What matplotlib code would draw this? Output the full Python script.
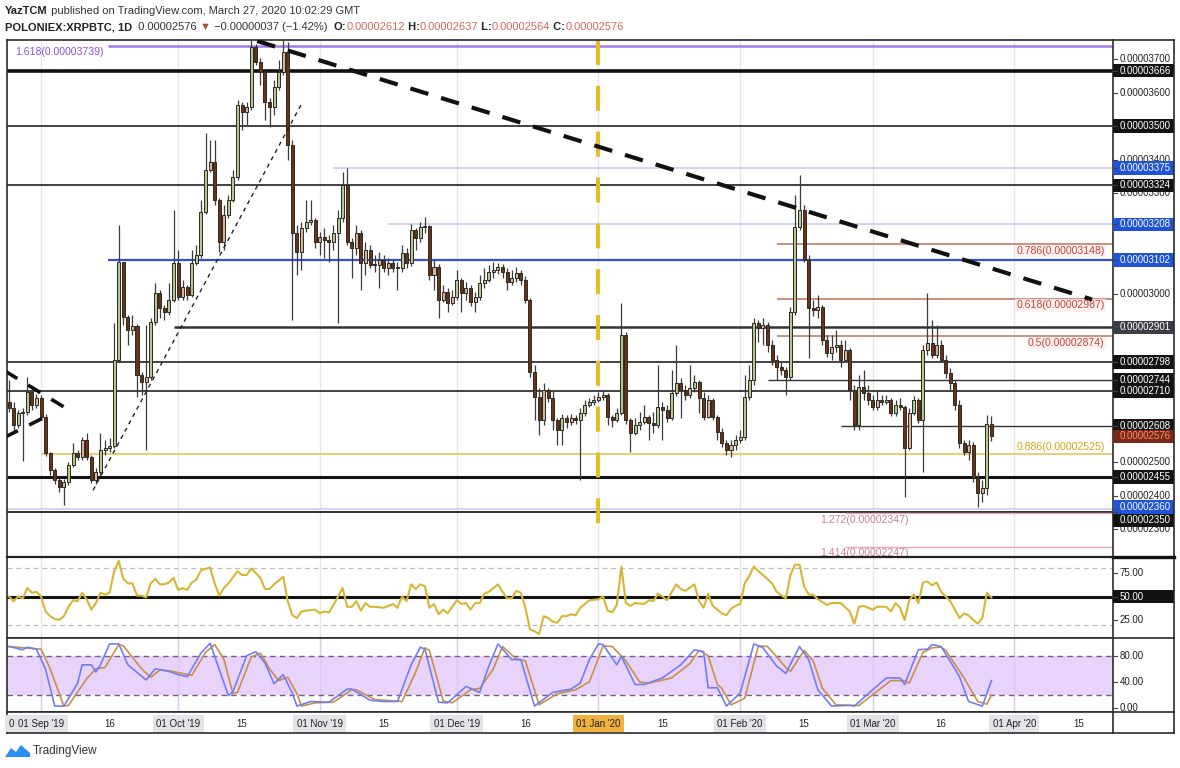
import numpy as np
import matplotlib
matplotlib.use("Agg")
import matplotlib.pyplot as plt
from matplotlib.patches import Rectangle, Polygon
from matplotlib.lines import Line2D
from matplotlib.transforms import IdentityTransform

plt.rcParams['font.family'] = ['Liberation Sans', 'DejaVu Sans']

# ---------------- data ----------------
# daily XRP/BTC candles, first one 25 Aug 2019 (day -7 counted from 01 Sep 2019)
# prices in satoshi (1e-8 BTC)
first_open = 2678
closes = [2661, 2610, 2646, 2649, 2708, 2670, 2690, 2634,
          2527, 2476, 2446, 2425, 2440, 2491, 2527, 2515, 2565, 2515,
          2446, 2470, 2535, 2541, 2547, 2804, 3096, 2932, 2893, 2905,
          2759, 2738, 2753, 2917, 3003, 2958, 2947, 2982, 3093, 2991,
          3021, 2997, 3093, 3116, 3244, 3370, 3393, 3280, 3155, 3236,
          3280, 3349, 3563, 3542, 3557, 3736, 3691, 3662, 3572, 3557,
          3617, 3662, 3721, 3444, 3182, 3125, 3197, 3215, 3221, 3155,
          3170, 3161, 3155, 3182, 3227, 3325, 3155, 3137, 3182, 3093,
          3131, 3087, 3087, 3101, 3078, 3093, 3078, 3078, 3122, 3093,
          3191, 3167, 3200, 3203, 3057, 3081, 2982, 3006, 2973, 2991,
          3042, 3003, 3018, 2976, 2991, 3033, 3042, 3066, 3072, 3081,
          3066, 3036, 3048, 3063, 3042, 2982, 2768, 2693, 2625, 2714,
          2690, 2625, 2595, 2631, 2619, 2631, 2625, 2646, 2670, 2678,
          2684, 2693, 2699, 2634, 2625, 2646, 2878, 2625, 2586, 2610,
          2619, 2634, 2616, 2610, 2664, 2655, 2631, 2705, 2735, 2714,
          2699, 2720, 2738, 2690, 2634, 2684, 2634, 2589, 2556, 2535,
          2550, 2565, 2574, 2693, 2744, 2914, 2899, 2908, 2848, 2804,
          2783, 2774, 2753, 2947, 3200, 3250, 3101, 2958, 2953, 2961,
          2863, 2824, 2842, 2848, 2804, 2833, 2714, 2610, 2723, 2705,
          2684, 2664, 2684, 2678, 2684, 2646, 2670, 2664, 2541, 2646,
          2684, 2625, 2833, 2854, 2818, 2848, 2804, 2765, 2735, 2670,
          2556, 2529, 2550, 2452, 2407, 2422, 2612, 2576]
highs = [2744, 2678, 2655, 2661, 2753, 2720, 2702, 2699,
         2643, 2529, 2482, 2452, 2449, 2500, 2556, 2535, 2574, 2586,
         2521, 2482, 2586, 2565, 2571, 2914, 3206, 3096, 2938, 2938,
         2911, 2768, 2908, 2929, 3033, 3012, 2967, 3033, 3250, 3131,
         3042, 3027, 3131, 3146, 3280, 3480, 3459, 3459, 3286, 3265,
         3295, 3370, 3578, 3572, 3572, 3757, 3745, 3703, 3667, 3584,
         3638, 3697, 3757, 3751, 3459, 3206, 3215, 3280, 3280, 3227,
         3185, 3197, 3176, 3206, 3250, 3364, 3376, 3167, 3206, 3191,
         3155, 3146, 3116, 3125, 3116, 3107, 3101, 3096, 3146, 3137,
         3209, 3197, 3215, 3230, 3206, 3101, 3090, 3027, 3018, 3012,
         3072, 3048, 3036, 3027, 3006, 3057, 3078, 3087, 3096, 3093,
         3090, 3078, 3072, 3081, 3072, 3054, 2988, 2789, 2720, 2735,
         2720, 2714, 2631, 2643, 2640, 2643, 2640, 2661, 2684, 2690,
         2699, 2708, 2714, 2705, 2640, 2661, 2973, 2887, 2631, 2631,
         2649, 2670, 2640, 2649, 2789, 2678, 2670, 2774, 2848, 2750,
         2729, 2789, 2759, 2744, 2708, 2699, 2690, 2640, 2601, 2565,
         2565, 2580, 2595, 2759, 2789, 2929, 2923, 2929, 2917, 2863,
         2818, 2798, 2783, 2961, 3295, 3355, 3265, 3116, 2982, 2997,
         2967, 2878, 2878, 2893, 2863, 2863, 2839, 2729, 2759, 2774,
         2729, 2699, 2714, 2699, 2699, 2690, 2684, 2690, 2670, 2661,
         2696, 2690, 2848, 3003, 2923, 2908, 2863, 2818, 2780, 2744,
         2684, 2565, 2565, 2559, 2470, 2446, 2640, 2637]
lows = [2649, 2586, 2601, 2503, 2640, 2655, 2661, 2625,
        2518, 2461, 2434, 2410, 2372, 2431, 2485, 2506, 2506, 2506,
        2437, 2434, 2461, 2521, 2529, 2541, 2798, 2908, 2848, 2878,
        2693, 2699, 2535, 2744, 2908, 2929, 2923, 2938, 2976, 2982,
        2982, 2982, 2991, 3087, 3107, 3238, 3364, 3265, 3125, 3131,
        3227, 3274, 3340, 3489, 3504, 3548, 3682, 3623, 3519, 3498,
        3533, 3608, 3653, 3399, 2923, 3057, 3072, 3185, 3206, 3137,
        3116, 3107, 3096, 3131, 2914, 3215, 3146, 3048, 3116, 3012,
        3057, 3078, 3066, 3018, 3066, 3057, 3066, 3012, 3066, 3078,
        3084, 3131, 3155, 3182, 3042, 3012, 2929, 2976, 2947, 2967,
        2982, 2947, 2982, 2964, 2947, 2982, 3018, 3036, 3048, 3060,
        3048, 3012, 3027, 3036, 3027, 2973, 2753, 2625, 2580, 2610,
        2678, 2595, 2550, 2550, 2601, 2610, 2613, 2446, 2637, 2664,
        2670, 2678, 2684, 2610, 2604, 2619, 2640, 2613, 2529, 2580,
        2595, 2613, 2565, 2586, 2601, 2565, 2619, 2625, 2696, 2631,
        2684, 2690, 2708, 2646, 2625, 2631, 2625, 2565, 2544, 2521,
        2515, 2535, 2556, 2565, 2684, 2729, 2857, 2848, 2827, 2789,
        2744, 2759, 2699, 2744, 2938, 3191, 3096, 2810, 2935, 2929,
        2848, 2812, 2804, 2827, 2783, 2804, 2684, 2595, 2595, 2684,
        2670, 2655, 2655, 2670, 2672, 2637, 2637, 2655, 2395, 2535,
        2640, 2616, 2470, 2818, 2810, 2810, 2798, 2750, 2714, 2655,
        2541, 2521, 2506, 2440, 2366, 2381, 2401, 2564]
# candle colouring as shown: g = green, b = brown, t = tan
kinds = ("bbgtgbtb" "bbbbtggbtb" "btgggggbbt" "bbtggbbggb" "tbggggtbbt"
         "gggbtgbbbb" "ggtbbbtggb" "tbbgggbbtb" "tbbtbtbbgb" "gbgtbtbtbt"
         "gbtbtgggtg" "bbtgbbbbbt" "bbbgbtbggg" "gtgbbggbbg" "ggbbgbbggb"
         "btgbbtbbbb" "tgggggbtbb" "bbbgggbbbt" "bbtgbtbbgb" "bbtbtbgbbt"
         "gbgtbtbbbb" "bbtbbtgb")

# RSI (day since 01 Sep 2019, value)
rsi_day = [-7, -6, -5, -4, -3, -2, -1, 0, 1, 2, 3, 4, 5, 6, 7, 8, 9, 10, 11, 12,
           13, 14, 15, 16, 17, 18, 19, 20, 21, 22, 23, 24, 25, 26, 27, 28, 29, 30,
           31, 32, 33, 34, 35, 37, 38, 39, 40, 41, 43, 44, 45, 46, 47, 48, 49, 50,
           51, 53, 54, 55, 56, 57, 58, 60, 61, 62, 63, 64, 66, 67, 68, 69, 70, 71,
           72, 73, 75, 76, 77, 78, 79, 80, 81, 82, 83, 84, 85, 86, 87, 88, 89, 91,
           92, 93, 94, 95, 96, 97, 98, 100, 101, 102, 103, 104, 105, 106, 107, 108,
           109, 110, 111, 112, 113, 114, 115, 116, 117, 118, 119, 120, 122, 123,
           124, 125, 126, 127, 128, 129, 130, 132, 133, 134, 135, 136, 137, 139,
           140, 141, 143, 144, 145, 146, 147, 148, 149, 150, 151, 152, 153, 154,
           155, 156, 157, 158, 160, 161, 163, 164, 165, 166, 167, 168, 169, 170,
           172, 173, 175, 177, 178, 179, 180, 182, 183, 184, 185, 186, 187, 188,
           189, 190, 191, 192, 193, 194, 195, 196, 197, 199, 201, 202, 203, 204,
           205, 206, 207, 208]
rsi_val = [50, 45, 50, 48, 59, 54, 55, 50, 34, 29, 26, 25, 29, 39, 46, 45, 54, 47, 36, 43,
           54, 52, 54, 77, 88, 69, 64, 64, 51, 51, 49, 64, 69, 63, 63, 65, 70, 57,
           59, 57, 65, 68, 78, 81, 64, 51, 59, 64, 77, 73, 73, 80, 75, 70, 58, 58,
           63, 71, 45, 30, 27, 34, 35, 36, 32, 34, 33, 41, 59, 39, 39, 45, 35, 43,
           39, 39, 38, 40, 42, 38, 50, 45, 63, 58, 63, 61, 38, 42, 31, 36, 32, 46,
           42, 43, 36, 43, 43, 53, 55, 63, 55, 48, 48, 56, 54, 38, 15, 13,
           10, 29, 27, 23, 22, 29, 29, 31, 30, 38, 42, 46, 47, 50,
           35, 33, 41, 82, 43, 40, 43, 42, 46, 45, 53, 50, 46, 63,
           58, 56, 63, 45, 38, 53, 40, 36, 32, 30, 37, 40, 42, 64,
           72, 82, 77, 73, 64, 55, 48, 73, 84, 84, 61, 52, 52, 47,
           41, 43, 43, 34, 21, 39, 40, 36, 39, 39, 39, 34, 43, 38,
           25, 46, 52, 43, 65, 66, 62, 65, 55, 45, 27, 32, 30, 25,
           21, 27, 54, 49]

# Stochastic RSI %K and %D
k_day = [-7, -4, -3, -1, 1, 3, 5, 8, 9, 11, 12, 13, 15, 17, 19, 23, 25, 28, 30, 32,
         35, 37, 38, 41, 42, 45, 47, 49, 51, 53, 55, 56, 59, 63, 67, 68, 72, 75, 78, 81,
         83, 84, 87, 89, 93, 96, 98, 100, 103, 105, 108, 112, 116, 118, 120, 122, 123,
         126, 127, 130, 132, 136, 140, 143, 145, 146, 148, 150, 153, 156, 158, 161, 163,
         166, 168, 170, 173, 177, 178, 182, 185, 188, 189, 192, 194, 195, 197, 201, 203,
         206, 208]
k_val = [94, 89, 93, 90, 59, 3, 3, 38, 66, 66, 55, 66, 98, 98, 66, 43, 60, 56, 51, 48,
         84, 99, 79, 19, 25, 80, 86, 69, 37, 51, 23, 3, 10, 9, 29, 29, 12, 10, 10, 66,
         93, 90, 9, 8, 33, 24, 64, 98, 74, 74, 3, 24, 29, 38, 74, 98, 97,
         66, 79, 36, 36, 46, 66, 89, 86, 31, 31, 3, 23, 98, 92, 64, 53,
         94, 74, 28, 3, 4, 3, 28, 46, 46, 36, 89, 90, 97, 94, 48, 10,
         3, 42]
d_day = [-7, -2, 0, 2, 5, 6, 10, 12, 14, 17, 18, 22, 24, 26, 28, 33, 36, 38, 40, 42,
         43, 46, 48, 50, 52, 54, 56, 57, 60, 64, 68, 69, 73, 79, 82, 84, 85, 88, 90, 94,
         96, 99, 101, 104, 106, 109, 113, 117, 120, 123, 125, 128, 131, 133, 138, 142,
         144, 146, 148, 149, 151, 154, 157, 159, 163, 164, 167, 169, 171, 174, 179, 183,
         186, 189, 190, 193, 195, 197, 198, 202, 205, 207, 208]
d_val = [94, 91, 90, 60, 3, 4, 45, 60, 62, 97, 95, 60, 47, 58, 57, 50, 85, 97, 75, 22,
         24, 78, 84, 60, 42, 47, 22, 3, 8, 9, 28, 28, 13, 10, 55, 92, 88, 11, 8, 28,
         30, 60, 94, 75, 72, 5, 22, 28, 40, 95, 94, 72, 40, 38, 46, 68,
         88, 80, 36, 30, 5, 15, 95, 94, 62, 56, 88, 72, 30, 5, 4, 26,
         42, 42, 38, 85, 92, 93, 88, 46, 10, 6, 20]

# x axis
tick_day = [0, 15, 30, 44, 61, 75, 91, 106, 122, 136, 153, 167, 182, 197, 213, 227]
tick_lab = ["01 Sep '19", "16", "01 Oct '19", "15", "01 Nov '19", "15", "01 Dec '19", "16",
            "01 Jan '20", "15", "01 Feb '20", "15", "01 Mar '20", "16", "01 Apr '20", "15"]
month_day = [0, 30, 61, 91, 122, 153, 182, 213]

# drawn levels
black_levels = [3666, 3500, 3324, 2901, 2798, 2744, 2710, 2608, 2455, 2350]
blue_levels = [3375, 3208, 3102, 2360]
fib_ratio = ["1.618", "0.786", "0.618", "0.5", "0.886", "1.272", "1.414"]
fib_price = [3739, 3148, 2987, 2874, 2525, 2347, 2247]
plain_ticks = [3700, 3600, 3400, 3300, 3000, 2500, 2400, 2300]
last_price = 2576

# ---------------- figure ----------------
W, H = 1180.0, 768.0
fig = plt.figure(figsize=(W / 100, H / 100), dpi=100)
fig.patch.set_facecolor('white')


def box(x0, y0, x1, y1):
    return [x0 / W, 1 - y1 / H, (x1 - x0) / W, (y1 - y0) / H]


ax = fig.add_axes(box(7, 40, 1113, 557))
ax_rsi = fig.add_axes(box(7, 557, 1113, 638))
ax_st = fig.add_axes(box(7, 638, 1113, 712))
ax_x = fig.add_axes(box(7, 712, 1113, 733))

x_lo, x_hi = -7.45, 234.6
for a in (ax, ax_rsi, ax_st, ax_x):
    a.set_xlim(x_lo, x_hi)
    a.set_xticks([])
    a.set_yticks([])
    for s in a.spines.values():
        s.set_color('#2b2b2b')
        s.set_linewidth(1.2)
ax.set_ylim(2217, 3757)
ax_rsi.set_ylim(5.7, 92.2)
ax_st.set_ylim(-6, 107)
ax_x.set_ylim(0, 1)

for a in (ax, ax_rsi, ax_st):
    for m in month_day:
        a.axvline(m, color='#e6e6ec', lw=1, zorder=0)

# ---- levels ----
black_from = [x_lo, x_lo, x_lo, 29, x_lo, 159, x_lo, 175, x_lo, x_lo]
black_lw = [2.6, 1.2, 1.2, 1.8, 1.2, 1.0, 1.2, 1.0, 2.2, 1.3]
black_col = ['#111', '#222', '#222', '#333', '#222', '#333', '#222', '#333', '#111', '#222']
for v, f, w, c in zip(black_levels, black_from, black_lw, black_col):
    ax.hlines(v, f, x_hi, color=c, lw=w, zorder=2)
blue_from = [64, 76, 14.7, x_lo]
blue_col = ['#c6cdf0', '#c6cdf0', '#3050d8', '#c6cdf0']
blue_lw = [1.2, 1.2, 1.6, 1.2]
for v, f, c, w in zip(blue_levels, blue_from, blue_col, blue_lw):
    ax.hlines(v, f, x_hi, color=c, lw=w, zorder=2)

fib_from = [14.7, 161, 161, 161, 0, 176, 176]
fib_col = ['#a07ae8', '#c27c66', '#c27c66', '#c27c66', '#e6c65e', '#e9a7bb', '#e9a7bb']
fib_lw = [1.8, 1.2, 1.2, 1.2, 1.2, 1.0, 1.0]
for v, f, c, w in zip(fib_price, fib_from, fib_col, fib_lw):
    ax.hlines(v, f, x_hi, color=c, lw=w, zorder=2)

# fib labels
lab_kw = dict(xycoords=('axes fraction', 'data'), textcoords='offset points',
              fontsize=7.6, va='center', zorder=6)
ax.annotate(f"{fib_ratio[0]}({fib_price[0] * 1e-8:.8f})", xy=(0, fib_price[0]),
            xytext=(6, -4.5), ha='left', color='#8a4fd8', **lab_kw)
for i, dy in zip([1, 2, 3], [-4.5, -5, -4.5]):
    ax.annotate(f"{fib_ratio[i]}({fib_price[i] * 1e-8:.8f})", xy=(1, fib_price[i]),
                xytext=(-6, dy), ha='right', color='#c9432e',
                bbox=dict(boxstyle='square,pad=0.1', fc='#fdeeee', ec='none', alpha=0.8), **lab_kw)
ax.annotate(f"{fib_ratio[4]}({fib_price[4] * 1e-8:.8f})", xy=(1, fib_price[4]),
            xytext=(-6, 5), ha='right', color='#d6a416', **lab_kw)
for i in [5, 6]:
    ax.annotate(f"{fib_ratio[i]}({fib_price[i] * 1e-8:.8f})", xy=(176, fib_price[i]),
                xycoords='data', textcoords='offset points', xytext=(-18, -4.5),
                fontsize=7.6, va='center', ha='left', color='#cf7f97', zorder=6)

# trend lines
ax.plot([47.3, 230.0], [3754, 2984], color='#111', lw=3, dashes=(4.5, 3.2),
        solid_capstyle='butt', zorder=6)
ax.plot([-7.9, 5.0], [2771, 2664], color='#111', lw=2.6, dashes=(4, 3.5), zorder=6)
ax.plot([-7.9, 1.3], [2574, 2637], color='#111', lw=2.6, dashes=(4, 3.5), zorder=6)
ax.plot([11.4, 57.1], [2416, 3569], color='#222', lw=1.0, dashes=(3, 3), zorder=6)
ax.plot([122, 122], [3757, 2262], color='#e2bd2c', lw=3, dashes=(6, 5), zorder=2)

# ---- candles ----
day = np.arange(len(closes)) - 7
c = np.array(closes, float)
o = np.r_[first_open, c[:-1]]
hi = np.array(highs, float)
lo = np.array(lows, float)
fill = {'g': '#b3c891', 'b': '#6c3216', 't': '#dcb199'}
cols = [fill[k] for k in kinds]
ax.vlines(day, lo, hi, color='#3b3b3b', lw=0.9, zorder=4)
ax.bar(day, np.maximum(np.abs(c - o), 2.5), bottom=np.minimum(o, c), width=0.66,
       color=cols, edgecolor='#2c2a22', linewidth=0.7, zorder=5)

# ---- RSI ----
ax_rsi.axhline(50, color='#111', lw=2.2, zorder=2)
for v in (80, 20):
    ax_rsi.axhline(v, color='#bdbdbd', lw=0.9, dashes=(4, 3), zorder=1)
ax_rsi.plot(rsi_day, rsi_val, color='#d9b536', lw=1.5, zorder=3)

# ---- Stoch RSI ----
ax_st.axhspan(20, 80, color='#e8d3fb', zorder=0.5, lw=0)
for m in month_day:
    ax_st.axvline(m, color='#dccbef', lw=1, zorder=0.6)
for v in (80, 20):
    ax_st.axhline(v, color='#6f6480', lw=1, dashes=(4, 3), zorder=1)
ax_st.plot(d_day, d_val, color='#c98f45', lw=1.2, zorder=3)
ax_st.plot(k_day, k_val, color='#6f7ff2', lw=1.2, zorder=4)

# ---- x axis band ----
for d, t in zip(tick_day, tick_lab):
    if t.startswith('01'):
        fc = '#f1b13c' if "Jan" in t else '#e3e4e8'
        ax_x.text(d, 0.45, t, ha='center', va='center', fontsize=7, color='#222',
                  bbox=dict(boxstyle='square,pad=0.35', fc=fc, ec='none'))
    else:
        ax_x.text(d, 0.45, t, ha='center', va='center', fontsize=7, color='#222')
ax_x.text(-6.6, 0.45, "0", ha='center', va='center', fontsize=7, color='#222',
          bbox=dict(boxstyle='square,pad=0.35', fc='#e3e4e8', ec='none'))

# ---- right price scale ----
fig_inv = fig.transFigure.inverted()


def fy(a, v):
    return fig_inv.transform(a.transData.transform((0, v)))[1]


def tag(a, v, text, fc=None, tc='#222', z=6, shift=0.0):
    # shift: pixels the label is pushed down to clear a neighbour (as the scale does)
    y = fy(a, v)
    yl = y - shift / H
    if fc is not None:
        fig.patches.append(Rectangle((1113 / W, yl - 6.8 / H), 61 / W, 13.6 / H,
                                     transform=fig.transFigure, fc=fc, ec='none', zorder=z))
    fig.add_artist(Line2D([1113 / W, 1117 / W], [y, y], color='#444', lw=0.8, zorder=z + 1))
    fig.text(1119.5 / W, yl, text, color=tc, fontsize=7, va='center', ha='left', zorder=z + 1)


for v in plain_ticks:
    tag(ax, v, f"{v * 1e-8:.8f}", z=3)
tag_col = {'k': '#131313', 'b': '#2153d6', 'g': '#3b3e46'}
for v in [3666, 3500, 3324, 2798, 2744, 2710, 2608, 2455]:
    tag(ax, v, f"{v * 1e-8:.8f}", tag_col['k'], 'white')
tag(ax, 2350, "0.00002350", tag_col['k'], 'white', shift=8)
for v, s in zip(blue_levels, [0, 0, 0, -2]):
    tag(ax, v, f"{v * 1e-8:.8f}", tag_col['b'], 'white', shift=s)
tag(ax, 2901, "0.00002901", tag_col['g'], 'white')
tag(ax, last_price, f"{last_price * 1e-8:.8f}", '#7a2a12', '#ff8a80')

for v in (75, 25):
    tag(ax_rsi, v, f"{v:.2f}", z=3)
tag(ax_rsi, 50, "50.00", '#111', 'white')
for v in (80, 40, 0):
    tag(ax_st, v, f"{v:.2f}", z=3)


# frame of the right scale
def fline(x0, y0, x1, y1, lw=1.2, col='#2b2b2b'):
    fig.add_artist(Line2D([x0 / W, x1 / W], [1 - y0 / H, 1 - y1 / H], color=col, lw=lw, zorder=10))


fline(1174, 40, 1174, 733)
fline(1113, 40, 1174, 40)
fline(1113, 733, 1174, 733)
fline(1113, 557, 1174, 557, lw=2.4, col='#111')
fline(7, 557, 1113, 557, lw=1.6, col='#222')
fline(1113, 638, 1174, 638)
fline(1113, 712, 1174, 712)

# ---- header ----
r = fig.canvas.get_renderer()


def chain(x, y, parts, size=8):
    for s, col, w in parts:
        t = fig.text(x, H - y, s, color=col, fontweight=w, fontsize=size, va='center',
                     ha='left', transform=IdentityTransform())
        x = t.get_window_extent(renderer=r).x1
    return x


chain(5, 11, [("YazTCM", '#222', 'bold'),
              (" published on TradingView.com, March 27, 2020 10:02:29 GMT", '#333', 'normal')])
sal = '#d46a5c'
chain(5, 27, [("POLONIEX:XRPBTC, 1D", '#222', 'bold'), ("  0.00002576 ", '#333', 'normal'),
              ("▼", '#a7542f', 'normal'), (" \u22120.00000037 (\u22121.42%)  ", '#333', 'normal'),
              ("O:", '#222', 'bold'), ("0.00002612", sal, 'normal'),
              (" H:", '#222', 'bold'), ("0.00002637", sal, 'normal'),
              (" L:", '#222', 'bold'), ("0.00002564", sal, 'normal'),
              (" C:", '#222', 'bold'), ("0.00002576", sal, 'normal')])

# ---- footer logo ----
logo = [(5, 757), (11, 748), (16, 752), (21, 745), (30, 753), (30, 757)]
fig.patches.append(Polygon([(x / W, 1 - y / H) for x, y in logo], closed=True,
                           transform=fig.transFigure, fc='#2a8ff2', ec='none'))
fig.text(33 / W, 1 - 751 / H, "TradingView", fontsize=8.5, color='#333', va='center', ha='left')

fig.savefig("out.png", dpi=100, facecolor='white')
